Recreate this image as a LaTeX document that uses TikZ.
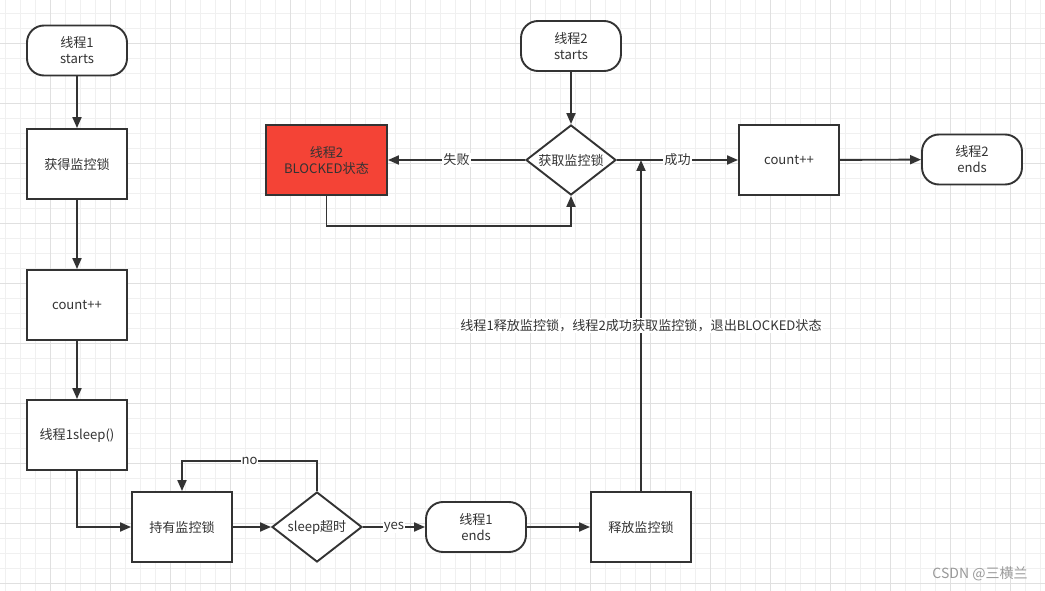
\documentclass[tikz,border=0pt]{standalone}
\usepackage{fontspec}
\setmainfont{Noto Sans CJK SC}
\usetikzlibrary{shapes.geometric,arrows.meta}
\definecolor{lc}{HTML}{333333}
\definecolor{tc}{HTML}{333333}
\definecolor{gminor}{HTML}{F0F0F0}
\definecolor{gmajor}{HTML}{E0E0E0}
\definecolor{blkred}{HTML}{F44336}
\begin{document}
\begin{tikzpicture}[x=1pt,y=-1pt,
  txt/.style={text=tc,font=\fontsize{13.1}{16}\selectfont,align=center},
  box/.style={txt,draw=lc,line width=1.9pt,minimum width=100pt,minimum height=70pt,inner sep=0pt,fill=white},
  term/.style={box,rounded corners=17pt,minimum height=50pt},
  dec/.style={box,diamond,minimum width=90pt,minimum height=70pt,shape aspect=1.2857},
  arr/.style={draw=lc,line width=1.9pt,-{Triangle[length=11pt,width=9pt]}},
  lab/.style={txt,fill=white,inner sep=1pt},
  gmin/.style={draw=gminor,line width=0.8pt},
  gmaj/.style={draw=gmajor,line width=0.8pt}]
\useasboundingbox (0,0) rectangle (1045,591);
\fill[white] (0,0) rectangle (1045,591);
% grid
\foreach \x in {5,20,...,1040} \draw[gmin] (\x,0) -- (\x,591);
\foreach \y in {13,28,...,588} \draw[gmin] (0,\y) -- (1045,\y);
\foreach \x in {50,110,...,1010} \draw[gmaj] (\x,0) -- (\x,591);
\foreach \y in {43,103,...,583} \draw[gmaj] (0,\y) -- (1045,\y);

% thread 1
\node[term] (t1s) at (77,50.5) {线程1\\starts};
\node[box] (get1) at (77,164) {获得监控锁};
\node[box] (cnt1) at (77,305) {count++};
\node[box] (sleep) at (77,435) {线程1sleep()};
\node[box] (hold) at (182,527) {持有监控锁};
\node[dec] (dto) at (317,527) {sleep超时};
\node[term] (t1e) at (476,527) {线程1\\ends};
\node[box] (rel) at (641,527) {释放监控锁};

% thread 2
\node[term] (t2s) at (571,46) {线程2\\starts};
\node[dec] (acq) at (571,160) {获取监控锁};
\node[box,fill=blkred,minimum width=121pt] (blk) at (326.5,160) {线程2\\BLOCKED状态};
\node[box] (cnt2) at (789,160) {count++};
\node[term] (t2e) at (972,159.5) {线程2\\ends};

% connectors thread 1
\draw[arr] (t1s) -- (get1);
\draw[arr] (get1) -- (cnt1);
\draw[arr] (cnt1) -- (sleep);
\draw[arr] (sleep.south) |- (hold.west);
\draw[arr] (hold) -- (dto);
\draw[arr] (dto.north) -- ++(0,-30) -| node[lab,pos=0.25] {no} (hold.north);
\draw[arr] (dto) -- node[lab] {yes} (t1e);
\draw[arr] (t1e) -- (rel);
\draw[arr] (rel.north) -- node[lab] {线程1释放监控锁，线程2成功获取监控锁，退出BLOCKED状态} (rel.north |- acq.east);

% connectors thread 2
\draw[arr] (t2s) -- (acq);
\draw[arr] (acq) -- node[lab] {失败} (blk);
\draw[arr] (blk.south) -- ++(0,30) -| (acq.south);
\draw[arr] (acq) -- node[lab,pos=0.5] {成功} (cnt2);
\draw[arr] (cnt2) -- (t2e);

% watermark
\node[text=black!40,font=\fontsize{14}{16}\selectfont] (wm) at (980,574) {CSDN @三横兰};
\end{tikzpicture}
\end{document}
